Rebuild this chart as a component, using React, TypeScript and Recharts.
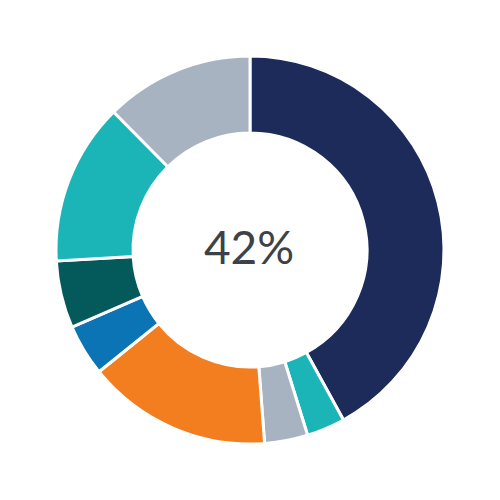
import { PieChart, Pie, Cell } from "recharts";

const labels = ["A", "B", "C", "D", "E", "F", "G", "H"];
const values = [42, 3.2, 3.6, 15.4, 4.3, 5.6, 13.5, 12.4];
const colors = ["#1d2b5b", "#1bb5b8", "#a8b3c2", "#f37e20", "#0a74b5", "#045a5a", "#1bb5b8", "#a8b3c2"];
const centerLabel = "42%";

const data = labels.map((name, i) => ({ name, value: values[i] }));

export default function App() {
  return (
    <div style={{ position: "absolute", left: 0, top: 0, width: 500, height: 500, background: "#fff" }}>
      <PieChart width={500} height={500} margin={{ top: 0, right: 0, bottom: 0, left: 0 }}>
        <Pie
          data={data}
          dataKey="value"
          cx={250}
          cy={250}
          innerRadius={117}
          outerRadius={194}
          startAngle={90}
          endAngle={-270}
          stroke="#fff"
          strokeWidth={3}
          isAnimationActive={false}
        >
          {data.map((d, i) => (
            <Cell key={d.name} fill={colors[i]} />
          ))}
        </Pie>
        <text
          x={249}
          y={246}
          textAnchor="middle"
          dominantBaseline="central"
          style={{ fontFamily: "Lato, 'Open Sans', sans-serif", fontSize: 46, fill: "#3d4148" }}
        >
          {centerLabel}
        </text>
      </PieChart>
    </div>
  );
}
